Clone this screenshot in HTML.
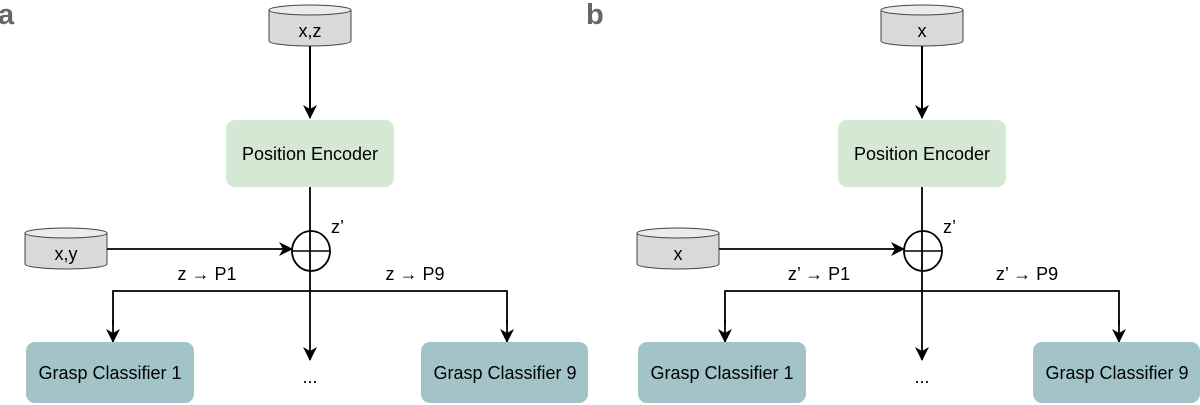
<!DOCTYPE html>
<html><head><meta charset="utf-8"><style>
html,body{margin:0;padding:0;background:#fff;}
svg{display:block;font-family:"Liberation Sans",Arial,sans-serif;}
</style></head><body>
<svg width="1200" height="405" viewBox="0 0 1200 405" xmlns="http://www.w3.org/2000/svg">
<defs>
<marker id="ah" markerWidth="14" markerHeight="14" refX="13" refY="7" orient="auto" markerUnits="userSpaceOnUse">
<path d="M0,0 L14,7 L0,14 L4,7 Z" fill="#000"/>
</marker>
<g id="cyl">
<path d="M0,5 L0,36 A41,5 0 0 0 82,36 L82,5" fill="#d9d9d9" stroke="#444" stroke-width="1"/>
<ellipse cx="41" cy="5" rx="41" ry="5" fill="#ececec" stroke="#444" stroke-width="1"/>
</g>
<g id="panel">
<line x1="310" y1="46" x2="310" y2="118" stroke="#000" stroke-width="2" marker-end="url(#ah)"/>
<rect x="226" y="120" width="168" height="67" rx="9" fill="#d5e8d4"/>
<text x="310" y="160" font-size="18" text-anchor="middle">Position Encoder</text>
<line x1="310" y1="187" x2="310" y2="360" stroke="#000" stroke-width="1.8" marker-end="url(#ah)"/>
<ellipse cx="311" cy="251" rx="19" ry="20" fill="none" stroke="#000" stroke-width="1.8"/>
<line x1="292" y1="251" x2="330" y2="251" stroke="#000" stroke-width="1.5"/>
<text x="331" y="233" font-size="18">z’</text>
<use href="#cyl" x="25" y="228"/>
<line x1="107" y1="249" x2="292" y2="249" stroke="#000" stroke-width="1.8" marker-end="url(#ah)"/>
<polyline points="113,325 113,291 507,291 507,325" fill="none" stroke="#000" stroke-width="1.8"/>
<line x1="113" y1="320" x2="113" y2="342" stroke="#000" stroke-width="1.8" marker-end="url(#ah)"/>
<line x1="507" y1="320" x2="507" y2="342" stroke="#000" stroke-width="1.8" marker-end="url(#ah)"/>
<rect x="26" y="342" width="168" height="61" rx="9" fill="#a2c4c9"/>
<text x="110" y="379" font-size="18" text-anchor="middle">Grasp Classifier 1</text>
<rect x="421" y="342" width="167" height="61" rx="9" fill="#a2c4c9"/>
<text x="505" y="379" font-size="18" text-anchor="middle">Grasp Classifier 9</text>
<text x="310" y="383" font-size="18" text-anchor="middle">...</text>
</g>
</defs>
<text x="-2" y="24" font-size="29" font-weight="bold" fill="#666">a</text>
<text x="586" y="24" font-size="29" font-weight="bold" fill="#666">b</text>

<use href="#cyl" x="269" y="5"/>
<text x="310" y="37" font-size="18" text-anchor="middle">x,z</text>
<use href="#panel"/>
<text x="66" y="260" font-size="18" text-anchor="middle">x,y</text>
<text x="207" y="280" font-size="18" text-anchor="middle">z → P1</text>
<text x="415" y="280" font-size="18" text-anchor="middle">z → P9</text>

<g transform="translate(612,0)">
<use href="#cyl" x="269" y="5"/>
<text x="310" y="37" font-size="18" text-anchor="middle">x</text>
<use href="#panel"/>
<text x="66" y="260" font-size="18" text-anchor="middle">x</text>
<text x="207" y="280" font-size="18" text-anchor="middle">z’ → P1</text>
<text x="415" y="280" font-size="18" text-anchor="middle">z’ → P9</text>
</g>
</svg>
</body></html>
